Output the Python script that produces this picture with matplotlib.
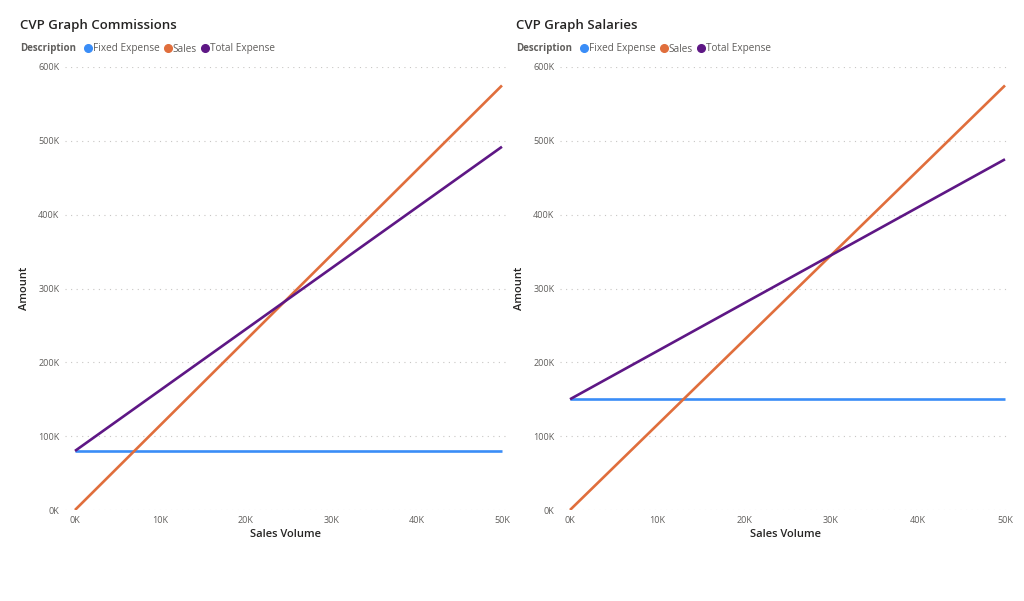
import matplotlib.pyplot as plt
from matplotlib.lines import Line2D

plt.rcParams['font.family'] = ['Open Sans', 'DejaVu Sans']

# sales volume (units)
volume = [0, 10000, 20000, 30000, 40000, 50000]

# CVP Graph Commissions
fixed_comm = [80000, 80000, 80000, 80000, 80000, 80000]
sales_comm = [0, 115000, 230000, 345000, 460000, 575000]
total_comm = [80000, 162400, 244800, 327200, 409600, 492000]

# CVP Graph Salaries
fixed_sal = [150000, 150000, 150000, 150000, 150000, 150000]
sales_sal = [0, 115000, 230000, 345000, 460000, 575000]
total_sal = [150000, 215000, 280000, 345000, 410000, 475000]

titles = ['CVP Graph Commissions', 'CVP Graph Salaries']
series_names = ['Fixed Expense', 'Sales', 'Total Expense']
colors = ['#3A8DF7', '#E06E3C', '#5E1785']
yticks = [0, 100000, 200000, 300000, 400000, 500000, 600000]
ylabels = ['0K', '100K', '200K', '300K', '400K', '500K', '600K']
xticks = [0, 10000, 20000, 30000, 40000, 50000]
xlabels = ['0K', '10K', '20K', '30K', '40K', '50K']

fig = plt.figure(figsize=(10.24, 6.01), dpi=100)

panels = [
    (fixed_comm, sales_comm, total_comm),
    (fixed_sal, sales_sal, total_sal),
]
# axes boxes in figure fraction, x limits to get the gap on the left
boxes = [[65 / 1024, 91 / 601, 442 / 1024, 443 / 601],
         [560 / 1024, 91 / 601, 450 / 1024, 443 / 601]]
xlims = [(-1170, 50590), (-1150, 50575)]
title_x = [20 / 1024, 516 / 1024]

grey = '#605E5C'
for k in range(2):
    ax = fig.add_axes(boxes[k])
    fixed, sales, total = panels[k]
    ax.plot(volume, fixed, color=colors[0], lw=1.9, solid_capstyle='butt')
    ax.plot(volume, sales, color=colors[1], lw=1.9, solid_capstyle='butt')
    ax.plot(volume, total, color=colors[2], lw=1.9, solid_capstyle='butt')
    ax.set_xlim(*xlims[k])
    ax.set_ylim(0, 600000)
    ax.set_yticks(yticks)
    ax.set_yticklabels(ylabels)
    ax.set_xticks(xticks)
    ax.set_xticklabels(xlabels)
    ax.tick_params(length=0, labelsize=6.5, colors=grey, pad=4)
    ax.grid(axis='y', color='#C8C6C4', linestyle=(0, (1, 4)), lw=0.8)
    ax.set_axisbelow(True)
    for s in ax.spines.values():
        s.set_visible(False)
    ax.set_xlabel('Sales Volume', fontsize=8, color='#252423', labelpad=3,
                  fontweight='semibold')
    ax.set_ylabel('Amount', fontsize=8, color='#252423', labelpad=6,
                  fontweight='semibold')

    fig.text(title_x[k], 1 - 26 / 601, titles[k], fontsize=9.5, color='#252423',
             va='center', ha='left', fontweight='semibold')
    fig.text(title_x[k], 1 - 49 / 601, 'Description', fontsize=7, color=grey,
             fontweight='bold', va='center', ha='left')
    handles = [Line2D([], [], marker='o', linestyle='', color=c, markersize=5.5)
               for c in colors]
    fig.legend(handles, series_names, loc='center left',
               bbox_to_anchor=(title_x[k] + 58 / 1024, 1 - 49 / 601),
               ncol=3, frameon=False, fontsize=7.2, labelcolor=grey,
               handletextpad=0.0, columnspacing=0.3, borderpad=0,
               handlelength=1.0)

fig.savefig('out.png', dpi=100, facecolor='white')
